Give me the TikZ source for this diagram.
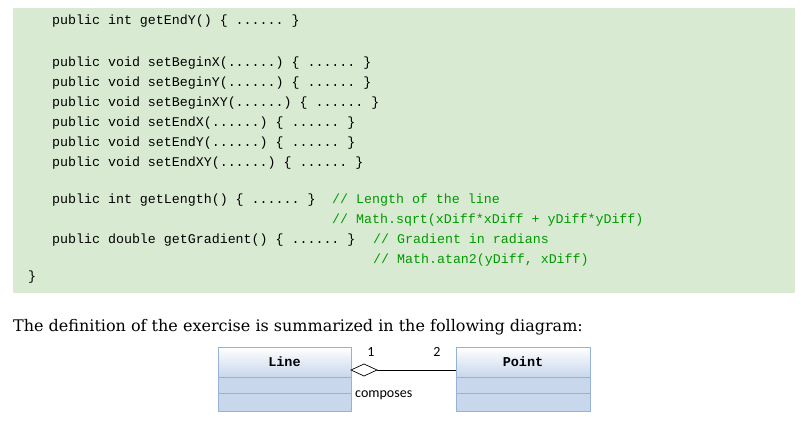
\documentclass[tikz,border=0pt]{standalone}
\usepackage{fontspec}
\setmainfont{DejaVu Serif}
\setmonofont{Liberation Mono}
\newfontfamily\uisans{Carlito}
\usetikzlibrary{shapes.geometric}
\definecolor{codebg}{RGB}{217,234,211}
\definecolor{cmt}{RGB}{0,153,0}
\definecolor{umlb}{RGB}{150,178,214}
\definecolor{umlf}{RGB}{200,215,236}
\tikzset{
  code/.style={anchor=base west,inner sep=0pt,font=\ttfamily\fontsize{13.3}{14}\selectfont},
  cmtx/.style={code,text=cmt},
  sect/.style={draw=umlb,line width=0.8pt},
  lbl/.style={anchor=base,inner sep=0pt,font=\uisans\fontsize{14}{16}\selectfont},
  cname/.style={inner sep=0pt,font=\ttfamily\bfseries\fontsize{13.5}{15}\selectfont}
}
\begin{document}
\begin{tikzpicture}[x=1pt,y=-1pt]
\useasboundingbox (0,0) rectangle (801,430);
\fill[white] (0,0) rectangle (801,430);
\fill[codebg] (13,8) rectangle (795,293);
\node[code] (l1) at (52,25) {public int getEndY() \{ ...... \}};
\node[code] (l2) at (52,67) {public void setBeginX(......) \{ ...... \}};
\node[code] (l3) at (52,87) {public void setBeginY(......) \{ ...... \}};
\node[code] (l4) at (52,107) {public void setBeginXY(......) \{ ...... \}};
\node[code] (l5) at (52,127) {public void setEndX(......) \{ ...... \}};
\node[code] (l6) at (52,147) {public void setEndY(......) \{ ...... \}};
\node[code] (l7) at (52,167) {public void setEndXY(......) \{ ...... \}};
\node[code] (l8) at (52,204) {public int getLength() \{ ...... \}};
\node[cmtx] (c1) at (332,204) {// Length of the line};
\node[cmtx] (c2) at (332,224) {// Math.sqrt(xDiff*xDiff + yDiff*yDiff)};
\node[code] (l9) at (52,244) {public double getGradient() \{ ...... \}};
\node[cmtx] (c3) at (373,244) {// Gradient in radians};
\node[cmtx] (c4) at (373,264) {// Math.atan2(yDiff, xDiff)};
\node[code] (l10) at (28,281) {\}};
\node[anchor=base west,inner sep=0pt,font=\fontsize{16}{18}\selectfont] (txt) at (13,332) {The definition of the exercise is summarized in the following diagram:};
% Line class
\shade[top color=white,bottom color=umlf] (218,347) rectangle (351,377);
\fill[umlf] (218,377) rectangle (351,411);
\draw[sect] (218,347) rectangle (351,411);
\draw[sect] (218,377) -- (351,377) (218,393) -- (351,393);
\node[cname] (line) at (284.5,362) {Line};
% Point class
\shade[top color=white,bottom color=umlf] (456,347) rectangle (590,377);
\fill[umlf] (456,377) rectangle (590,411);
\draw[sect] (456,347) rectangle (590,411);
\draw[sect] (456,377) -- (590,377) (456,393) -- (590,393);
\node[cname] (point) at (523,362) {Point};
% association
\coordinate (da) at (351,370);
\coordinate (pa) at (456,370);
\draw[fill=white,line width=0.7pt] (351,370) -- (364,364) -- (377,370) -- (364,376) -- cycle;
\draw[line width=0.7pt] (377,370) -- (pa);
\node[lbl] (m1) at (371,357) {1};
\node[lbl] (m2) at (437,357) {2};
\node[lbl,anchor=base west] (comp) at (355,398) {composes};
\end{tikzpicture}
\end{document}
